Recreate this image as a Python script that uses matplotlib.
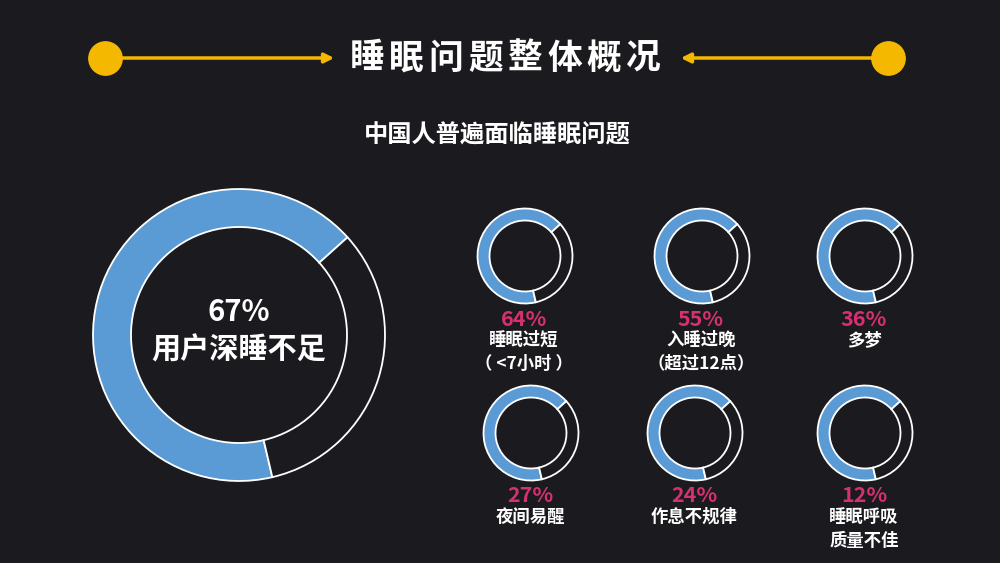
import matplotlib.pyplot as plt

plt.rcParams['font.family'] = ['Noto Sans CJK SC', 'DejaVu Sans']

# data
title = "睡眠问题整体概况"
subtitle = "中国人普遍面临睡眠问题"
main_pct = "67%"
main_label = "用户深睡不足"
main_share = 0.67

small_pcts = ["64%", "55%", "36%", "27%", "24%", "12%"]
small_labels = ["睡眠过短\n（ <7小时 ）", "入睡过晚\n（超过12点）", "多梦",
                "夜间易醒", "作息不规律", "睡眠呼吸\n质量不佳"]
# the small rings in the picture are all drawn with the same fill
small_shares = [0.67, 0.67, 0.67, 0.67, 0.67, 0.67]

bg = '#1b1a1e'
blue = '#5b9bd5'
pink = '#d5306f'
yellow = '#f5b800'

W, H = 1000, 563
fig = plt.figure(figsize=(10, 5.63), dpi=100, facecolor=bg)
ax = fig.add_axes([0, 0, 1, 1])
ax.set_facecolor(bg)


def Y(y):
    return H - y


def ring(cx, cy, r, share, width):
    ax.pie([share, 1 - share], center=(cx, Y(cy)), radius=r, startangle=42,
           colors=[blue, bg], counterclock=True,
           wedgeprops=dict(width=width, edgecolor='white', linewidth=1.3))


# title with yellow decorations
ty = 58
for i, ch in enumerate(title):
    ax.text(367 + i * 39.5, Y(ty), ch, color='white', fontsize=25,
            fontweight='heavy', ha='center', va='center')
ax.annotate('', xy=(337, Y(ty)), xytext=(105, Y(ty)),
            arrowprops=dict(arrowstyle='-|>', color=yellow, lw=2.5, mutation_scale=14))
ax.annotate('', xy=(678, Y(ty)), xytext=(888, Y(ty)),
            arrowprops=dict(arrowstyle='-|>', color=yellow, lw=2.5, mutation_scale=14))
ax.plot([105, 888], [Y(ty), Y(ty)], 'o', color=yellow, markersize=24, zorder=5)

ax.text(497, Y(135), subtitle, color='white', fontsize=17.5, fontweight='bold',
        ha='center', va='center')

# big ring
ring(239, 335, 146, main_share, 38)
ax.text(239, Y(312), main_pct, color='white', fontsize=21, fontweight='bold',
        ha='center', va='center')
ax.text(239, Y(349), main_label, color='white', fontsize=21, fontweight='bold',
        ha='center', va='center')

# small rings
centers = [(525, 256), (702, 256), (865, 256), (531, 433), (695, 433), (865, 433)]
for (cx, cy), share, pct, lab in zip(centers, small_shares, small_pcts, small_labels):
    ring(cx, cy, 47.5, share, 12)
    ax.text(cx - 1, Y(cy + 63), pct, color=pink, fontsize=15.5, fontweight='bold',
            ha='center', va='center')
    ax.text(cx - 1, Y(cy + 75), lab, color='white', fontsize=12.5, fontweight='bold',
            ha='center', va='top', linespacing=1.4)

ax.set_xlim(0, W)
ax.set_ylim(0, H)
ax.set_aspect('equal')
ax.axis('off')

fig.savefig('out.png', dpi=100, facecolor=bg)
